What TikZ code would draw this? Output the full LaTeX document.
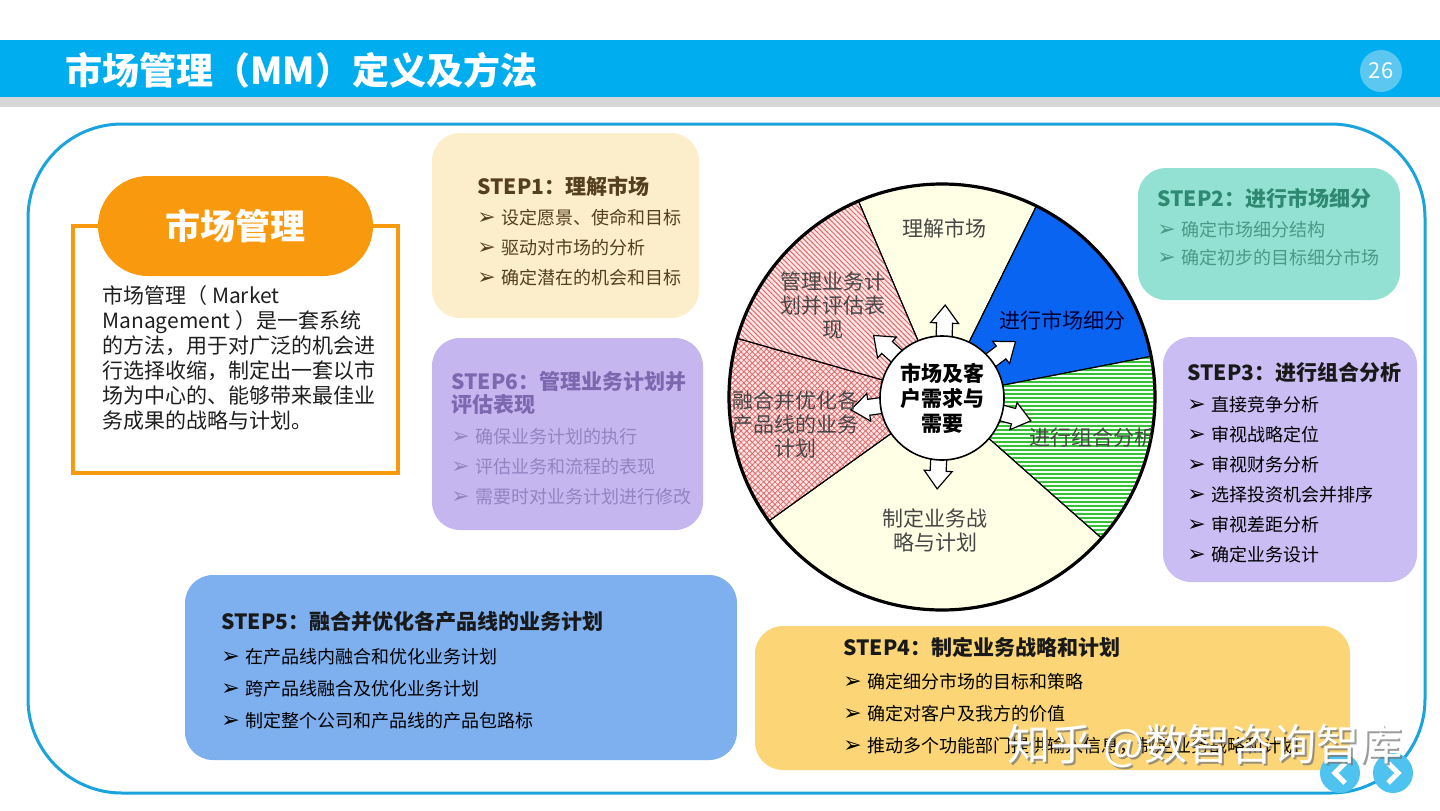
\documentclass[tikz,border=0pt]{standalone}
\usepackage{fontspec}
\setmainfont{Noto Sans CJK SC}
\newfontfamily\symfont{DejaVu Sans}
\usetikzlibrary{positioning,patterns.meta}
\definecolor{hdrblue}{HTML}{00AEEF}
\definecolor{hdrgray}{HTML}{D6D6D6}
\definecolor{pgblue}{HTML}{5CC8F2}
\definecolor{frameblue}{HTML}{1BA3DC}
\definecolor{mmorange}{HTML}{F99A0E}
\definecolor{sonefill}{HTML}{FCEECB}
\definecolor{sonetext}{HTML}{553F1E}
\definecolor{ssixfill}{HTML}{C5B6F0}
\definecolor{ssixtitle}{HTML}{7B68AE}
\definecolor{ssixtext}{HTML}{9384C2}
\definecolor{stwofill}{HTML}{93E1D2}
\definecolor{stwotitle}{HTML}{2E8872}
\definecolor{stwotext}{HTML}{4A9A88}
\definecolor{sthreefill}{HTML}{C9BDF3}
\definecolor{sfivefill}{HTML}{7EAFEE}
\definecolor{sfourfill}{HTML}{FCD676}
\definecolor{wcream}{HTML}{FFFFE6}
\definecolor{wblue}{HTML}{0A64F2}
\definecolor{wgreen}{HTML}{38C038}
\definecolor{wpink}{HTML}{E06A6A}
\definecolor{navbtn}{HTML}{4FC3F0}
\newcommand\bul{{\symfont\fontsize{11}{11}\selectfont ➢}\hspace{3pt}}

\begin{document}
\begin{tikzpicture}[x=0.5pt,y=-0.5pt,
	stepbox/.style={rounded corners=14pt},
	ttl/.style={anchor=west,inner sep=0,font=\bfseries\fontsize{10.5}{11.5}\selectfont},
	bl/.style={anchor=west,inner sep=0,font=\fontsize{9}{11}\selectfont},
	wl/.style={inner sep=0,align=center,text=black!72,font=\fontsize{10.5}{12}\selectfont},
	nav/.style={circle,fill=navbtn,minimum size=20pt,inner sep=0},
	wm/.style={inner sep=0,font=\fontsize{21.5}{21.5}\selectfont}]
	\useasboundingbox (0,0) rectangle (1440,810);
	\fill[white] (0,0) rectangle (1440,810);
	\fill[hdrblue] (0,40) rectangle (1440,97);
	\fill[hdrgray] (0,97) rectangle (1440,107);
	\node[anchor=west,inner sep=0,text=white,font=\bfseries\fontsize{18.5}{18.5}\selectfont] (title) at (65,70) {市场管理（MM）定义及方法};
	\node[circle,fill=pgblue,minimum size=21pt,inner sep=0,text=white,font=\fontsize{11}{11}\selectfont] (pg) at (1381,71) {26};
	
	\draw[frameblue,line width=1.5pt,rounded corners=47pt] (28,124) rectangle (1425,793);
	
	\draw[mmorange,line width=2pt] (73,226) rectangle (398,473);
	\node[fill=mmorange,rounded corners=25pt,minimum width=137.5pt,minimum height=50pt,text=white,font=\bfseries\fontsize{17.5}{17.5}\selectfont] (mm) at (235.5,226) {市场管理};
	\node[anchor=north west,inner sep=0,align=left,text=black!88,font=\fontsize{10.5}{12.5}\selectfont] (def) at (102,285) {市场管理（ Market\\Management ）是一套系统\\的方法，用于对广泛的机会进\\行选择收缩，制定出一套以市\\场为中心的、能够带来最佳业\\务成果的战略与计划。};
	
	\fill[sonefill,stepbox] (432,133) rectangle (699,318);
	\node[ttl,text=sonetext] (s1) at (477,186) {STEP1：理解市场};
	\node[bl,text=sonetext] (s1a) at (477,218) {\bul 设定愿景、使命和目标};
	\node[bl,text=sonetext] (s1b) [below=15pt of s1a.west,anchor=west] {\bul 驱动对市场的分析};
	\node[bl,text=sonetext] (s1c) [below=15pt of s1b.west,anchor=west] {\bul 确定潜在的机会和目标};
	
	\fill[ssixfill,stepbox] (432,338) rectangle (703,530);
	\node[ttl,text=ssixtitle,align=left] (s6) at (451,393) {STEP6：管理业务计划并\\评估表现};
	\node[bl,text=ssixtext] (s6a) at (451,437) {\bul 确保业务计划的执行};
	\node[bl,text=ssixtext] (s6b) [below=15pt of s6a.west,anchor=west] {\bul 评估业务和流程的表现};
	\node[bl,text=ssixtext] (s6c) [below=15pt of s6b.west,anchor=west] {\bul 需要时对业务计划进行修改};
	
	\fill[stwofill,stepbox] (1138,168) rectangle (1400,300);
	\node[ttl,text=stwotitle] (s2) at (1157,198) {STEP2：进行市场细分};
	\node[bl,text=stwotext] (s2a) at (1157,230) {\bul 确定市场细分结构};
	\node[bl,text=stwotext] (s2b) [below=14pt of s2a.west,anchor=west] {\bul 确定初步的目标细分市场};
	
	\fill[sthreefill,stepbox] (1163,337) rectangle (1417,582);
	\node[ttl,text=black!90] (s3) at (1187,372) {STEP3：进行组合分析};
	\node[bl] (s3a) at (1187,405) {\bul 直接竞争分析};
	\node[bl] (s3b) [below=15pt of s3a.west,anchor=west] {\bul 审视战略定位};
	\node[bl] (s3c) [below=15pt of s3b.west,anchor=west] {\bul 审视财务分析};
	\node[bl] (s3d) [below=15pt of s3c.west,anchor=west] {\bul 选择投资机会并排序};
	\node[bl] (s3e) [below=15pt of s3d.west,anchor=west] {\bul 审视差距分析};
	\node[bl] (s3f) [below=15pt of s3e.west,anchor=west] {\bul 确定业务设计};
	
	\fill[sfivefill,stepbox] (185,575) rectangle (737,760);
	\node[ttl,text=black!90] (s5) at (221,622) {STEP5：融合并优化各产品线的业务计划};
	\node[bl] (s5a) at (221,657) {\bul 在产品线内融合和优化业务计划};
	\node[bl] (s5b) [below=16pt of s5a.west,anchor=west] {\bul 跨产品线融合及优化业务计划};
	\node[bl] (s5c) [below=16pt of s5b.west,anchor=west] {\bul 制定整个公司和产品线的产品包路标};
	
	\fill[sfourfill,stepbox] (755,626) rectangle (1350,770);
	\node[ttl,text=black!90] (s4) at (843,647) {STEP4：制定业务战略和计划};
	\node[bl] (s4a) at (843,682) {\bul 确定细分市场的目标和策略};
	\node[bl] (s4b) [below=16pt of s4a.west,anchor=west] {\bul 确定对客户及我方的价值};
	\node[bl] (s4c) [below=16pt of s4b.west,anchor=west] {\bul 推动多个功能部门提供输入信息，制定业务战略和计划};
	
	\begin{scope}[shift={(942,397)},yscale=-1,line width=0.5pt]
		\filldraw[fill=wcream] (0,0) -- (63.7:213) arc (63.7:113.1:213) -- cycle;
		\filldraw[fill=wblue] (0,0) -- (11:213) arc (11:63.7:213) -- cycle;
		\filldraw[fill=green!6] (0,0) -- (-41.5:213) arc (-41.5:11:213) -- cycle;
		\path[pattern={Lines[angle=0,distance=2pt,line width=0.7pt]},pattern color=wgreen] (0,0) -- (-41.5:213) arc (-41.5:11:213) -- cycle;
		\filldraw[fill=wcream] (0,0) -- (215.6:213) arc (215.6:318.5:213) -- cycle;
		\filldraw[fill=red!10] (0,0) -- (164:213) arc (164:215.6:213) -- cycle;
		\path[pattern={Hatch[angle=45,distance=2pt,line width=0.4pt]},pattern color=wpink] (0,0) -- (164:213) arc (164:215.6:213) -- cycle;
		\filldraw[fill=red!10] (0,0) -- (113.1:213) arc (113.1:164:213) -- cycle;
		\path[pattern={Lines[angle=-45,distance=1.8pt,line width=0.5pt]},pattern color=wpink] (0,0) -- (113.1:213) arc (113.1:164:213) -- cycle;
		\foreach \a in {63.7,113.1,164,215.6,318.5,11}
			\draw (0,0) -- (\a:213);
		\draw[line width=1.6pt] (0,0) circle [radius=213];
		\foreach \a in {88,37,-15,-93,188,138}
			\filldraw[fill=white,line width=0.6pt,rotate=-\a] (55,-8) -- (74,-8) -- (74,-14) -- (92,0) -- (74,14) -- (74,8) -- (55,8) -- cycle;
	\end{scope}
	\begin{scope}
		\clip (942,397) circle [radius=212];
		\node[wl] (w1) at (944,228) {理解市场};
		\node[wl,text=blue!20!black] (w2) at (1062,320) {进行市场细分};
		\node[wl] (w3) at (1092,438) {进行组合分析};
		\node[wl] (w4) at (935,530) {制定业务战\\略与计划};
		\node[wl] (w5) at (795,424) {融合并优化各\\产品线的业务\\计划};
		\node[wl] (w6) at (833,305) {管理业务计\\划并评估表\\现};
	\end{scope}
	\node[draw,circle,fill=white,line width=0.8pt,minimum size=62pt,inner sep=0,align=center,font=\bfseries\fontsize{10.5}{12.5}\selectfont] (hub) at (942,398) {市场及客\\户需求与\\需要};
	
	\node[nav] (prev) at (1340,773) {};
	\node[nav] (next) at (1393,773) {};
	\draw[white,line width=2.5pt] ([xshift=2.5pt,yshift=5pt]prev.center) -- ([xshift=-2.5pt]prev.center) -- ([xshift=2.5pt,yshift=-5pt]prev.center);
	\draw[white,line width=2.5pt] ([xshift=-2.5pt,yshift=5pt]next.center) -- ([xshift=2.5pt]next.center) -- ([xshift=-2.5pt,yshift=-5pt]next.center);
	
	\node[wm,text=black!55,opacity=.7] (wm0) at (1207,748) {知乎 @数智咨询智库};
	\node[wm,text=white] (wm) at (1205,746) {知乎 @数智咨询智库};
\end{tikzpicture}
\end{document}
